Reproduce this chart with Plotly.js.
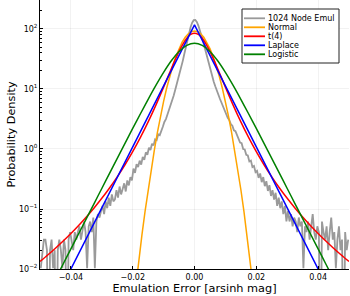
<!DOCTYPE html>
<html>
<head>
<meta charset="utf-8">
<script src="https://cdn.plot.ly/plotly-3.0.1.min.js"></script>
<style>html,body{margin:0;padding:0;background:#fff;}#chart{width:350px;height:296px;}</style>
</head>
<body>
<div id="chart"></div>
<script>
// ---- data ----
const seriesNames = ["1024 Node Emul", "Normal", "t(4)", "Laplace", "Logistic"];
const seriesColors = ["#9a9a9a", "#FFA500", "#FF0000", "#0000FF", "#008000"];

// histogram of emulation error (density), bins of width 0.0005 from -0.05 to 0.05
const binStart = -0.05;
const binWidth = 0.0005;
const emulDensity = [
  0.0103,0.0206,0.0309,0.0309,0.0206,0,0.0206,0.0309,0.0103,0.0206,0,0.0206,0.0309,0.0206,0.0103,0.0309,0.0206,0,0.0309,0.0412,
  0.0309,0.0206,0.0412,0.0309,0.0412,0.0515,0.0309,0.0412,0.0618,0.0412,0.0103,0.0515,0.0618,0.0412,0.0721,0.0103,0.0618,0.0824,0.0721,0.0927,
  0.113,0.082,0.134,0.103,0.155,0.113,0.175,0.134,0.144,0.206,0.155,0.237,0.175,0.216,0.268,0.196,0.299,0.247,0.340,0.299,
  0.47,0.40,0.56,0.50,0.64,0.55,0.74,0.66,0.88,0.80,1.05,0.96,1.22,1.15,1.45,1.40,1.75,1.70,2.10,2.35,
  2.82,3.15,3.75,4.40,5.2,6.4,7.7,9.6,11.8,14.6,18.3,23.2,30.0,39.5,52,68,88,108,127,140,
  141,131,114,95,77,63,50,39.5,30.5,24.5,19.6,16.0,13.1,11.0,9.2,7.9,6.8,5.9,5.0,4.3,
  3.75,3.30,3.05,2.60,2.45,2.05,1.98,1.68,1.55,1.28,1.25,1.00,0.98,0.80,0.78,0.62,0.64,0.50,0.52,0.41,
  0.43,0.33,0.39,0.28,0.34,0.24,0.29,0.20,0.25,0.165,0.206,0.144,0.186,0.113,0.155,0.103,0.134,0.082,0.113,0.062,
  0.093,0.062,0.082,0.0515,0.072,0.0618,0.0412,0.0721,0.0515,0.0618,0.0103,0.0515,0.0412,0.0618,0.0309,0.0515,0.0824,0.0412,0.0309,0.0515,
  0.0412,0,0.0618,0.0412,0.0309,0.0515,0.0206,0.0412,0.0721,0.0309,0.0412,0.0103,0.0309,0.0515,0.0206,0.0309,0,0.0412,0.0206,0.0309
];

const normalX = [-0.02,-0.019,-0.018,-0.017,-0.016,-0.015,-0.014,-0.013,-0.012,-0.011,-0.01,-0.009,-0.008,-0.007,-0.006,-0.005,-0.004,-0.003,-0.002,-0.001,0,
  0.001,0.002,0.003,0.004,0.005,0.006,0.007,0.008,0.009,0.01,0.011,0.012,0.013,0.014,0.015,0.016,0.017,0.018,0.019,0.02];
const normalY = [0.001860,0.005342,0.01453,0.03742,0.09135,0.2113,0.4629,0.9607,1.889,3.519,6.210,10.38,16.44,24.66,35.05,47.19,60.19,72.74,83.27,90.30,92.78,
  90.30,83.27,72.74,60.19,47.19,35.05,24.66,16.44,10.38,6.210,3.519,1.889,0.9607,0.4629,0.2113,0.09135,0.03742,0.01453,0.005342,0.001860];

const tX = [-0.05,-0.0475,-0.045,-0.0425,-0.04,-0.0375,-0.035,-0.0325,-0.03,-0.0275,-0.025,-0.0225,-0.02,-0.0175,-0.015,-0.0125,-0.01,-0.0075,-0.00625,-0.005,-0.00375,-0.0025,-0.00125,0,
  0.00125,0.0025,0.00375,0.005,0.00625,0.0075,0.01,0.0125,0.015,0.0175,0.02,0.0225,0.025,0.0275,0.03,0.0325,0.035,0.0375,0.04,0.0425,0.045,0.0475,0.05];
const tY = [0.01334,0.01710,0.02219,0.02921,0.03904,0.05306,0.07350,0.1040,0.1506,0.2242,0.3440,0.5465,0.9034,1.560,2.827,5.389,10.73,21.77,30.70,42.35,56.16,70.20,81.08,85.23,
  81.08,70.20,56.16,42.35,30.70,21.77,10.73,5.389,2.827,1.560,0.9034,0.5465,0.3440,0.2242,0.1506,0.1040,0.07350,0.05306,0.03904,0.02921,0.02219,0.01710,0.01334];

const laplaceX = [-0.05,-0.025,0,0.025,0.05];
const laplaceY = [0.000963,0.3356,117.1,0.3356,0.000963];

const logisticX = [-0.05,-0.0475,-0.045,-0.0425,-0.04,-0.0375,-0.035,-0.0325,-0.03,-0.0275,-0.025,-0.0225,-0.02,-0.0175,-0.015,-0.0125,-0.01,-0.0075,-0.005,-0.0025,0,
  0.0025,0.005,0.0075,0.01,0.0125,0.015,0.0175,0.02,0.0225,0.025,0.0275,0.03,0.0325,0.035,0.0375,0.04,0.0425,0.045,0.0475,0.05];
const logisticY = [0.002125,0.003796,0.00678,0.01212,0.02164,0.03864,0.06896,0.1231,0.2198,0.3919,0.6983,1.241,2.198,3.867,6.727,11.47,18.90,29.47,42.16,53.4,58.0,
  53.4,42.16,29.47,18.90,11.47,6.727,3.867,2.198,1.241,0.6983,0.3919,0.2198,0.1231,0.06896,0.03864,0.02164,0.01212,0.00678,0.003796,0.002125];

const xTickVals = [-0.04,-0.02,0,0.02,0.04];
const xTickLabels = ["\u22120.04","\u22120.02","0.00","0.02","0.04"];
const yTickVals = [0.01,0.1,1,10,100];
const yTickLabels = ["10<sup>\u22122</sup>","10<sup>\u22121</sup>","10<sup>0</sup>","10<sup>1</sup>","10<sup>2</sup>"];

// ---- traces ----
const emulX = emulDensity.map((_, i) => binStart + binWidth * (i + 0.5));
const emulShown = emulDensity.map(v => v > 0 ? v : 1e-4); // empty bins drop below the axis

const FONT = "DejaVu Sans, Verdana, sans-serif";
const traces = [
  {x: emulX, y: emulShown, mode: "lines", line: {color: seriesColors[0], width: 1.8}, name: seriesNames[0]},
  {x: normalX, y: normalY, mode: "lines", line: {color: seriesColors[1], width: 1.5}, name: seriesNames[1]},
  {x: tX, y: tY, mode: "lines", line: {color: seriesColors[2], width: 1.5, shape: "spline", smoothing: 0.6}, name: seriesNames[2]},
  {x: laplaceX, y: laplaceY, mode: "lines", line: {color: seriesColors[3], width: 1.5}, name: seriesNames[3]},
  {x: logisticX, y: logisticY, mode: "lines", line: {color: seriesColors[4], width: 1.5, shape: "spline", smoothing: 0.6}, name: seriesNames[4]}
];

// ---- custom compact legend ----
const L = 40, W = 309, H = 269;
const px2x = p => (p - L) / W;
const py2y = p => 1 - p / H;
const shapes = [{
  type: "rect", xref: "paper", yref: "paper",
  x0: px2x(242), x1: px2x(339), y0: py2y(63), y1: py2y(9),
  line: {color: "#222", width: 1}, fillcolor: "#fff", layer: "above"
}];
const annotations = [];
seriesNames.forEach((nm, i) => {
  const yy = 18.3 + 9 * i;
  shapes.push({type: "line", xref: "paper", yref: "paper",
    x0: px2x(244), x1: px2x(265), y0: py2y(yy), y1: py2y(yy),
    line: {color: seriesColors[i], width: 1.8}, layer: "above"});
  annotations.push({xref: "paper", yref: "paper", x: px2x(267), y: py2y(yy),
    xanchor: "left", yanchor: "middle", text: nm, showarrow: false, borderpad: 0,
    font: {family: FONT, size: 8, color: "#000"}});
});

const layout = {
  width: 350, height: 296,
  margin: {l: 40, r: 1, t: 0, b: 27, pad: 0},
  paper_bgcolor: "#fff", plot_bgcolor: "#fff",
  showlegend: false,
  font: {family: FONT, color: "#000"},
  xaxis: {
    range: [-0.05, 0.05], tickvals: xTickVals, ticktext: xTickLabels,
    showline: true, linecolor: "#000", linewidth: 1, mirror: false,
    ticks: "inside", ticklen: 3, tickcolor: "#000",
    showgrid: true, gridcolor: "rgba(0,0,0,0.1)", gridwidth: 0.5, zeroline: false,
    tickfont: {family: FONT, size: 8, color: "#000"},
    title: {text: "Emulation Error [arsinh mag]", font: {family: FONT, size: 11.3, color: "#000"}, standoff: 3}
  },
  yaxis: {
    type: "log", range: [-2, 2.483], tickvals: yTickVals, ticktext: yTickLabels,
    showline: true, linecolor: "#000", linewidth: 1, mirror: false,
    ticks: "inside", ticklen: 3, tickcolor: "#000",
    minor: {ticks: "inside", ticklen: 2, tickcolor: "#000", dtick: "D1", showgrid: false},
    showgrid: true, gridcolor: "rgba(0,0,0,0.1)", gridwidth: 0.5, zeroline: false,
    tickfont: {family: FONT, size: 8, color: "#000"},
    title: {text: "Probability Density", font: {family: FONT, size: 11.3, color: "#000"}, standoff: 1}
  },
  shapes: shapes,
  annotations: annotations
};

Plotly.newPlot("chart", traces, layout, {displayModeBar: false, staticPlot: true});
</script>
</body>
</html>
